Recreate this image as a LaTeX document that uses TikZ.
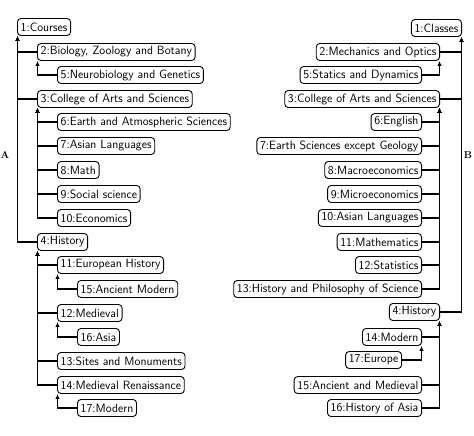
\documentclass[tikz,border=0pt]{standalone}
\usetikzlibrary{arrows.meta}
\begin{document}
\begin{tikzpicture}
  [x=1pt,y=-1pt,
   every node/.style={draw,rounded corners=3.5pt,line width=0.9pt,inner xsep=3.2pt,inner ysep=2pt,
     minimum height=17pt,font=\sffamily\fontsize{12}{14}\selectfont},
   lnode/.style={anchor=west},
   rnode/.style={anchor=east},
   link/.style={line width=1.4pt,-{Latex[length=5pt,width=4.5pt]}}]
\useasboundingbox (0,0) rectangle (474,436);
% left classification
\node (l1)[lnode] at (17,27)  {1:Courses};
  \node (l2)[lnode] at (37,52)  {2:Biology, Zoology and Botany};
  \node (l5)[lnode] at (57,75)  {5:Neurobiology and Genetics};
  \node (l3)[lnode] at (37,99)  {3:College of Arts and Sciences};
  \node (l6)[lnode] at (57,122) {6:Earth and Atmospheric Sciences};
  \node (l7)[lnode] at (57,146) {7:Asian Languages};
  \node (l8)[lnode] at (57,170) {8:Math};
  \node (l9)[lnode] at (57,194) {9:Social science};
  \node (l10)[lnode] at (57,218) {10:Economics};
  \node (l4)[lnode] at (37,242) {4:History};
  \node (l11)[lnode] at (57,265) {11:European History};
  \node (l15)[lnode] at (77,289) {15:Ancient Modern};
  \node (l12)[lnode] at (57,313) {12:Medieval};
  \node (l16)[lnode] at (77,337) {16:Asia};
  \node (l13)[lnode] at (57,361) {13:Sites and Monuments};
  \node (l14)[lnode] at (57,385) {14:Medieval Renaissance};
  \node (l17)[lnode] at (77,408) {17:Modern};
% right classification
\node (r1)[rnode] at (462,28)  {1:Classes};
  \node (r2)[rnode] at (440,52)  {2:Mechanics and Optics};
  \node (r5)[rnode] at (422,75)  {5:Statics and Dynamics};
  \node (r3)[rnode] at (440,99)  {3:College of Arts and Sciences};
  \node (r6)[rnode] at (422,122) {6:English};
  \node (r7)[rnode] at (422,146) {7:Earth Sciences except Geology};
  \node (r8)[rnode] at (422,170) {8:Macroeconomics};
  \node (r9)[rnode] at (422,194) {9:Microeconomics};
  \node (r10)[rnode] at (422,218) {10:Asian Languages};
  \node (r11)[rnode] at (422,242) {11:Mathematics};
  \node (r12)[rnode] at (422,265) {12:Statistics};
  \node (r13)[rnode] at (422,289) {13:History and Philosophy of Science};
  \node (r4)[rnode] at (440,312) {4:History};
  \node (r14)[rnode] at (422,337) {14:Modern};
  \node (r17)[rnode] at (402,360) {17:Europe};
  \node (r15)[rnode] at (422,385) {15:Ancient and Medieval};
  \node (r16)[rnode] at (422,408) {16:History of Asia};

 \node (la)[draw=none,font=\bfseries] at (5,155) {A};
 \node (lb)[draw=none,font=\bfseries] at (468,155) {B};

 \foreach \from/\to in {l2/l1,l3/l1,l4/l1,l5/l2,l6/l3,l7/l3,l8/l3,l9/l3,l10/l3,
   l11/l4,l12/l4,l13/l4,l14/l4,l15/l11,l16/l12,l17/l14}
    \draw[link] (\from.west) -| ([xshift=0.5pt]\to.south west);

 \foreach \from/\to in {r2/r1,r3/r1,r4/r1,r5/r2,r6/r3,r7/r3,r8/r3,r9/r3,r10/r3,
   r11/r3,r12/r3,r13/r3,r14/r4,r15/r4,r16/r4,r17/r14}
    \draw[link] (\from.east) -| ([xshift=-0.5pt]\to.south east);
\end{tikzpicture}
\end{document}
